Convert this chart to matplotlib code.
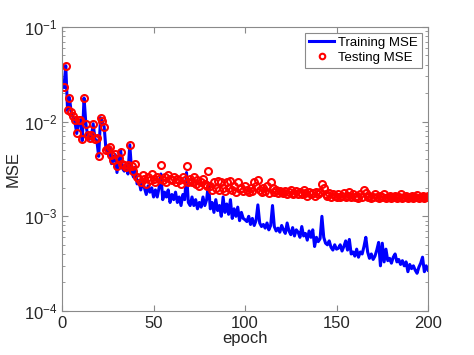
import numpy as np
import matplotlib
matplotlib.use("Agg")
import matplotlib.pyplot as plt

plt.rcParams['font.family'] = ['Liberation Sans', 'DejaVu Sans']

# MSE values, in units of 1e-3, epochs 1..200
train_mse_e3 = [
    23, 39, 13, 18, 12.5, 11, 10, 7.5, 10, 10.5,
    6.3, 17.8, 9.5, 7, 6.5, 7, 9.5, 6.5, 6.3, 4.3,
    11, 10, 8.8, 5.0, 4.6, 5.3, 3.6, 3.9, 4.5, 2.9,
    4.0, 5.0, 3.2, 3.0, 3.4, 2.8, 5.7, 3.0, 2.6, 3.3,
    2.2, 2.4, 1.9, 2.3, 2.0, 1.7, 2.1, 1.8, 2.0, 1.6,
    1.9, 1.6, 2.0, 2.8, 1.5, 1.8, 1.6, 1.9, 1.4, 1.7,
    1.5, 1.8, 1.4, 1.6, 1.3, 1.7, 1.5, 2.9, 1.4, 1.3,
    1.6, 1.3, 1.5, 1.2, 1.4, 1.25, 1.6, 1.3, 1.5, 2.25,
    1.2, 1.4, 1.1, 1.5, 1.15, 1.3, 1.0, 1.6, 1.1, 1.35,
    1.05, 1.5, 0.95, 1.2, 1.0, 1.25, 0.9, 1.1, 0.95, 0.92,
    0.88, 1.0, 0.82, 0.95, 0.8, 0.9, 1.32, 0.85, 0.78, 0.82,
    0.75, 0.85, 0.72, 0.8, 1.3, 0.78, 0.7, 0.75, 0.68, 0.8,
    0.72, 0.66, 0.85, 0.7, 0.64, 0.76, 0.62, 0.72, 0.68, 0.6,
    0.78, 0.62, 0.66, 0.56, 0.7, 0.6, 0.72, 0.48, 0.6, 0.54,
    0.58, 1.0, 0.6, 0.52, 0.5, 0.55, 0.47, 0.44, 0.5, 0.45,
    0.46, 0.5, 0.43, 0.48, 0.55, 0.44, 0.57, 0.4, 0.42, 0.38,
    0.45, 0.37, 0.42, 0.4, 0.48, 0.6, 0.42, 0.36, 0.4, 0.35,
    0.38, 0.44, 0.53, 0.3, 0.52, 0.33, 0.45, 0.34, 0.36, 0.32,
    0.37, 0.4, 0.33, 0.35, 0.31, 0.34, 0.3, 0.33, 0.26, 0.31,
    0.28, 0.3, 0.27, 0.25, 0.29, 0.32, 0.37, 0.26, 0.3, 0.27,
]

test_mse_e3 = [
    23, 39, 13.3, 17.8, 12.5, 11.5, 10.3, 7.5, 10.4, 10.5,
    6.5, 17.8, 9.5, 7.2, 6.8, 7.2, 9.5, 6.6, 6.7, 4.3,
    11, 10.2, 8.8, 5.0, 5.2, 5.4, 4.4, 3.9, 4.6, 3.4,
    4.1, 4.8, 3.6, 3.5, 3.3, 3.5, 5.7, 3.4, 3.0, 3.6,
    2.6, 2.5, 2.3, 2.7, 2.5, 2.2, 2.6, 2.4, 2.8, 2.5,
    2.3, 2.6, 2.5, 3.5, 2.4, 2.6, 2.3, 2.7, 2.5, 2.4,
    2.6, 2.3, 2.5, 2.4, 2.2, 2.6, 2.4, 3.4, 2.3, 2.5,
    2.3, 2.6, 2.2, 2.4, 2.1, 2.3, 2.5, 2.2, 2.1, 3.0,
    2.1, 1.9, 2.3, 2.0, 2.35, 1.9, 2.3, 2.0, 1.85, 2.3,
    2.0, 2.35, 1.9, 2.1, 1.8, 2.3, 1.95, 2.0, 1.85, 2.1,
    1.9, 1.8, 2.0, 1.85, 2.3, 2.1, 2.4, 1.9, 1.8, 2.0,
    1.85, 2.1, 1.75, 2.3, 2.0, 1.8, 1.9, 1.75, 1.85, 1.8,
    1.75, 1.85, 1.7, 1.8, 1.9, 1.7, 1.75, 1.85, 1.7, 1.8,
    1.7, 1.9, 1.75, 1.65, 1.8, 1.7, 1.75, 1.65, 1.8, 1.7,
    1.8, 2.2, 2.0, 1.7, 1.65, 1.75, 1.6, 1.7, 1.65, 1.6,
    1.7, 1.6, 1.65, 1.75, 1.6, 1.65, 1.8, 1.6, 1.7, 1.6,
    1.65, 1.55, 1.7, 1.6, 1.9, 1.75, 1.6, 1.65, 1.55, 1.6,
    1.7, 1.6, 1.55, 1.65, 1.6, 1.7, 1.55, 1.6, 1.65, 1.55,
    1.6, 1.65, 1.55, 1.6, 1.7, 1.55, 1.6, 1.65, 1.55, 1.6,
    1.62, 1.55, 1.6, 1.66, 1.55, 1.6, 1.62, 1.55, 1.6, 1.62,
]

epochs = np.arange(1, len(train_mse_e3) + 1)
train_mse = np.array(train_mse_e3) * 1e-3
test_mse = np.array(test_mse_e3) * 1e-3

fig = plt.figure(figsize=(4.74, 3.55), dpi=100)
ax = fig.add_axes([0.131, 0.124, 0.772, 0.8])

ax.plot(epochs, train_mse, color=(0, 0, 1), linewidth=2.2, label="Training MSE")
ax.plot(epochs, test_mse, linestyle="none", marker="o", markersize=5,
        markerfacecolor="none", markeredgecolor=(1, 0, 0), markeredgewidth=1.5,
        label="Testing MSE")

ax.set_yscale("log")
ax.set_xlim(0, 200)
ax.set_ylim(1e-4, 1e-1)
ax.set_xticks([0, 50, 100, 150, 200])
ax.set_yticks([1e-4, 1e-3, 1e-2, 1e-1])

for s in ax.spines.values():
    s.set_color("#8a8a8a")
    s.set_linewidth(0.8)
ax.tick_params(which="both", direction="in", top=True, right=True,
               color="#8a8a8a", labelsize=12, labelcolor="#262626")
ax.tick_params(which="major", length=4)
ax.tick_params(which="minor", length=2)

ax.set_xlabel("epoch", fontsize=12, color="#262626", labelpad=0)
ax.set_ylabel("MSE", fontsize=12, color="#262626", labelpad=2)

leg = ax.legend(loc="upper right", fontsize=9.5, fancybox=False, framealpha=1,
                edgecolor="#8a8a8a", handlelength=1.9, borderpad=0.3,
                labelspacing=0.2, handletextpad=0.3, borderaxespad=0.45,
                markerscale=0.8)
leg.get_frame().set_linewidth(0.8)

fig.savefig("out.png", dpi=100)
